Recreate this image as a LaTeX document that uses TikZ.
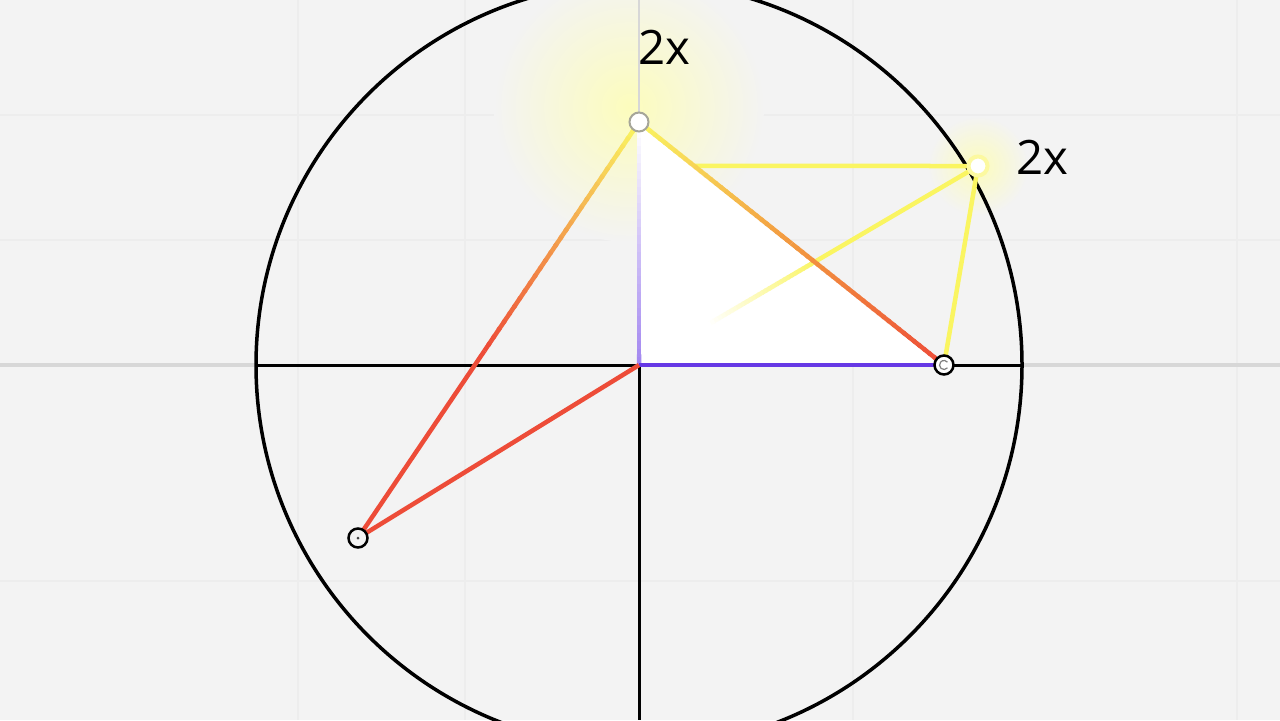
\documentclass[tikz,border=0pt]{standalone}
\usepackage{fontspec}
\setmainfont{Open Sans}
\usetikzlibrary{calc}

\newlength{\du}
\setlength{\du}{0.02cm}

\definecolor{bgcolor}{rgb}{0.953,0.953,0.953}
\definecolor{gridgrey}{rgb}{0.928,0.928,0.928}
\definecolor{axisgrey}{rgb}{0.845,0.845,0.845}
\definecolor{glowyellow}{rgb}{0.990,0.990,0.740}
\definecolor{lineyellow}{rgb}{0.980,0.960,0.380}
\definecolor{lineorange}{rgb}{0.950,0.600,0.250}
\definecolor{linered}{rgb}{0.930,0.300,0.220}
\definecolor{lineblue}{rgb}{0.400,0.220,0.900}
\definecolor{markergrey}{rgb}{0.650,0.650,0.600}

% colour runs from #3 at (#1) to #4 at (#2)
\newcommand{\gradseg}[4]{%
\foreach \i in {0,...,29}{%
\pgfmathsetmacro{\gfrom}{\i/30}%
\pgfmathsetmacro{\gto}{min(1,(\i+1.3)/30)}%
\pgfmathsetmacro{\gmix}{100-\i*100/29}%
\draw[colline, color=#3!\gmix!#4] ($(#1)!\gfrom!(#2)$) -- ($(#1)!\gto!(#2)$);}}

\begin{document}
\begin{tikzpicture}[even odd rule,
  gridline/.style={line width=1.5\du, draw=gridgrey},
  greyaxis/.style={line width=4\du, draw=axisgrey},
  axisline/.style={line width=3\du, draw=black},
  colline/.style={line width=4.5\du},
  marker/.style={circle, inner sep=0pt, minimum size=19\du, fill=white, line width=2.5\du},
  lbl/.style={font=\fontsize{27}{32}\selectfont, inner sep=0pt}]
\pgftransformxscale{1.000000}
\pgftransformyscale{-1.000000}
\useasboundingbox (0\du,0\du) rectangle (1280\du,720\du);
\clip (0\du,0\du) rectangle (1280\du,720\du);
\fill[bgcolor] (0\du,0\du) rectangle (1280\du,720\du);
% faint grid
\draw[gridline] (298\du,0\du) -- (298\du,720\du);
\draw[gridline] (465\du,0\du) -- (465\du,720\du);
\draw[gridline] (853\du,0\du) -- (853\du,720\du);
\draw[gridline] (1237\du,0\du) -- (1237\du,720\du);
\draw[gridline] (0\du,115\du) -- (1280\du,115\du);
\draw[gridline] (0\du,240\du) -- (1280\du,240\du);
\draw[gridline] (0\du,581\du) -- (1280\du,581\du);
% points
\coordinate (O) at (639\du,365\du);
\coordinate (A) at (639\du,122\du);
\coordinate (B) at (978\du,166\du);
\coordinate (C) at (944\du,365\du);
\coordinate (D) at (358\du,538\du);
\coordinate (W) at (256\du,365\du);
\coordinate (E) at (1022\du,365\du);
\coordinate (L) at (0\du,365\du);
\coordinate (R) at (1280\du,365\du);
\coordinate (N) at (639\du,0\du);
\coordinate (S) at (639\du,720\du);
\coordinate (H) at ($(A)!0.181!(C)$);
\coordinate (X) at ($(B)!0.47!(O)$);
\coordinate (Y) at ($(B)!0.80!(O)$);
\coordinate (AC) at ($(A)!0.5!(C)$);
\coordinate (AD) at ($(A)!0.55!(D)$);
% glow
\shade[inner color=glowyellow, outer color=bgcolor] ($(A)+(-10\du,-15\du)$) circle (135\du);
\shade[inner color=glowyellow, outer color=bgcolor] (B) circle (50\du);
\fill[white] (O) -- (A) -- (C) -- cycle;
% axes and circle
\draw[greyaxis] (L) -- (W);
\draw[greyaxis] (E) -- (R);
\draw[line width=2\du, draw=axisgrey] (N) -- (A);
\draw[axisline] (W) -- (E);
\draw[axisline] (O) -- (S);
\draw[line width=3.5\du] (O) circle (383\du);
% lines
\gradseg{O}{A}{lineblue!60!white}{white}
\draw[colline, lineblue] (O) -- (C);
\draw[colline, linered] (O) -- (D);
\draw[colline, lineyellow] (B) -- (X);
\gradseg{X}{Y}{lineyellow}{white}
\draw[colline, lineyellow] (H) -- (B);
\draw[colline, lineyellow] (B) -- (C);
\gradseg{A}{AC}{lineyellow}{lineorange}
\gradseg{AC}{C}{lineorange}{linered}
\gradseg{A}{AD}{lineyellow}{linered}
\draw[colline, linered] (AD) -- (D);
% markers
\node[marker, draw=markergrey, line width=2\du] (pA) at (A) {};
\node[marker, draw=lineyellow!60!white, line width=4\du] (pB) at (B) {};
\node[marker, draw=black] (pC) at (C) {};
\draw[line width=1.2\du, gray] ($(C)+(40:4.5\du)$) arc[start angle=40, end angle=320, radius=4.5\du];
\node[marker, draw=black, fill=bgcolor] (pD) at (D) {};
\fill[darkgray] (D) circle (1.5\du);
% labels
\node[lbl] (lblA) at (664\du,47\du) {2x};
\node[lbl] (lblB) at (1042\du,157\du) {2x};
\end{tikzpicture}
\end{document}
